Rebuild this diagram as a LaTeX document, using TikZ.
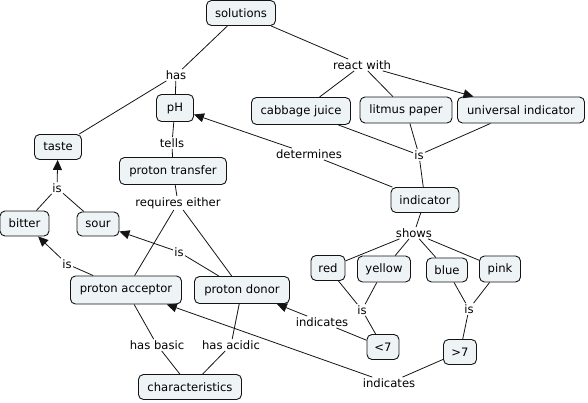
\documentclass[tikz,border=0pt]{standalone}
\usepackage{fontspec}
\setmainfont{DejaVu Sans}
\usetikzlibrary{arrows.meta}
\definecolor{boxfill}{RGB}{238,243,245}
\definecolor{lineclr}{RGB}{20,20,20}
\tikzset{
  cbox/.style={draw=lineclr, line width=0.9pt, rounded corners=5pt, fill=boxfill,
    inner sep=0pt, font=\fontsize{11.6}{13}\selectfont, text=black},
  lbl/.style={inner sep=1.2pt, font=\fontsize{11.6}{13}\selectfont, text=black},
  conn/.style={draw=lineclr, line width=0.8pt},
  arr/.style={conn, -{Triangle[length=10pt,width=9pt]}}
}
\begin{document}
\begin{tikzpicture}[x=1pt,y=-1pt]
\useasboundingbox (0,0) rectangle (588,402);
% concept nodes
\node[cbox, minimum width=69pt, minimum height=25pt] (sol) at (241,13) {solutions};
\node[cbox, minimum width=37pt, minimum height=27pt] (ph) at (175,108) {pH};
\node[cbox, minimum width=99pt, minimum height=27pt] (cab) at (301,111) {cabbage juice};
\node[cbox, minimum width=92pt, minimum height=26pt] (lit) at (406,110) {litmus paper};
\node[cbox, minimum width=127pt, minimum height=26pt] (uni) at (521,110) {universal indicator};
\node[cbox, minimum width=47pt, minimum height=25pt] (taste) at (58,147) {taste};
\node[cbox, minimum width=107pt, minimum height=27pt] (pt) at (173,171) {proton transfer};
\node[cbox, minimum width=68pt, minimum height=25pt] (ind) at (425,200) {indicator};
\node[cbox, minimum width=49pt, minimum height=25pt] (bit) at (24.5,223.5) {bitter};
\node[cbox, minimum width=42pt, minimum height=24pt] (sour) at (98,224) {sour};
\node[cbox, minimum width=111pt, minimum height=28pt] (pa) at (126,290) {proton acceptor};
\node[cbox, minimum width=95pt, minimum height=27pt] (pd) at (242,290) {proton donor};
\node[cbox, minimum width=103pt, minimum height=25pt] (char) at (190,387) {characteristics};
\node[cbox, minimum width=34pt, minimum height=25pt] (red) at (328,268) {red};
\node[cbox, minimum width=53pt, minimum height=26pt] (yel) at (384,269) {yellow};
\node[cbox, minimum width=41pt, minimum height=24pt] (blue) at (447,270) {blue};
\node[cbox, minimum width=41pt, minimum height=26pt] (pink) at (500,269) {pink};
\node[cbox, minimum width=32pt, minimum height=25pt] (lt) at (383,347) {<7};
\node[cbox, minimum width=33pt, minimum height=25pt] (gt) at (460,352) {>7};
% linking phrases
\node[lbl] (has) at (176,75) {has};
\node[lbl] (react) at (362,65) {react with};
\node[lbl] (tells) at (172,143) {tells};
\node[lbl] (det) at (309,154) {determines};
\node[lbl] (isind) at (419,155) {is};
\node[lbl] (istaste) at (57,188) {is};
\node[lbl] (req) at (178,203) {requires either};
\node[lbl] (isbit) at (67,264) {is};
\node[lbl] (issour) at (179,252) {is};
\node[lbl] (shows) at (414,233) {shows};
\node[lbl] (isry) at (362,310) {is};
\node[lbl] (isbp) at (469,309) {is};
\node[lbl] (indlt) at (322,322) {indicates};
\node[lbl] (hb) at (157,345) {has basic};
\node[lbl] (ha) at (231,345) {has acidic};
\node[lbl] (indgt) at (389,383) {indicates};
% connections
\draw[conn] (sol) -- (has);
\draw[conn] (has) -- (ph);
\draw[conn] (has) -- (taste);
\draw[conn] (sol) -- (react);
\draw[conn] (react) -- (cab);
\draw[conn] (react) -- (lit);
\draw[arr] (react) -- (uni);
\draw[conn] (ph) -- (tells);
\draw[conn] (tells) -- (pt);
\draw[conn] (ind) -- (det);
\draw[arr] (det) -- (ph);
\draw[conn] (cab) -- (isind);
\draw[conn] (lit) -- (isind);
\draw[conn] (uni) -- (isind);
\draw[conn] (isind) -- (ind);
\draw[conn] (bit) -- (istaste);
\draw[conn] (sour) -- (istaste);
\draw[arr] (istaste) -- (taste);
\draw[conn] (pt) -- (req);
\draw[conn] (req) -- (pa);
\draw[conn] (req) -- (pd);
\draw[conn] (pa) -- (isbit);
\draw[arr] (isbit) -- (bit);
\draw[conn] (pd) -- (issour);
\draw[arr] (issour) -- (sour);
\draw[conn] (ind) -- (shows);
\draw[conn] (shows) -- (red);
\draw[conn] (shows) -- (yel);
\draw[conn] (shows) -- (blue);
\draw[conn] (shows) -- (pink);
\draw[conn] (red) -- (isry);
\draw[conn] (yel) -- (isry);
\draw[conn] (isry) -- (lt);
\draw[conn] (blue) -- (isbp);
\draw[conn] (pink) -- (isbp);
\draw[conn] (isbp) -- (gt);
\draw[conn] (lt) -- (indlt);
\draw[arr] (indlt) -- (pd);
\draw[conn] (gt) -- (indgt);
\draw[arr] (indgt) -- (pa);
\draw[conn] (pa) -- (hb);
\draw[conn] (hb) -- (char);
\draw[conn] (pd) -- (ha);
\draw[conn] (ha) -- (char);
\end{tikzpicture}
\end{document}
